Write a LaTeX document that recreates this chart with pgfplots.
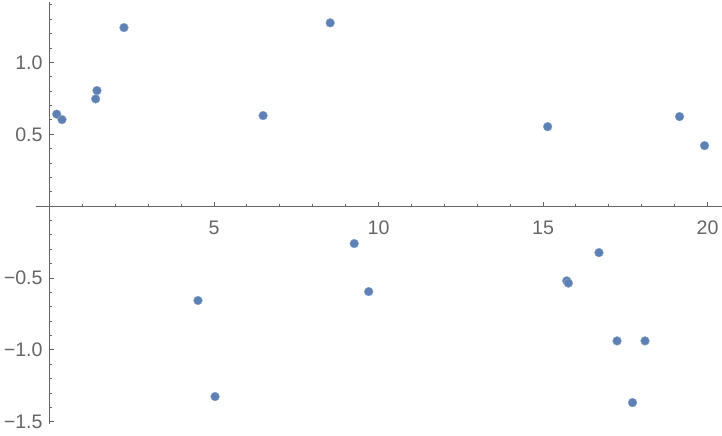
\documentclass[border=0pt]{standalone}
\usepackage{fontspec}
\setmainfont{Liberation Sans}
\usepackage{pgfplots}
\pgfplotsset{compat=1.18}
\usetikzlibrary{calc}
\definecolor{mblue}{HTML}{5E81B5}
\definecolor{mgray}{HTML}{666666}
\begin{document}
\begin{tikzpicture}
\begin{axis}[
  scale only axis,
  width=343.2pt, height=211pt,
  xmin=-0.42, xmax=20.44,
  ymin=-1.514, ymax=1.42,
  axis lines=middle,
  axis line style={-, draw=mgray, line width=0.6pt},
  xtick={5,10,15,20},
  minor xtick={1,2,3,4,6,7,8,9,11,12,13,14,16,17,18,19},
  ytick={-1.5,-1,-0.5,0.5,1},
  yticklabels={−1.5,−1.0,−0.5,0.5,1.0},
  minor ytick={-1.4,-1.3,-1.2,-1.1,-0.9,-0.8,-0.7,-0.6,-0.4,-0.3,-0.2,-0.1,0.1,0.2,0.3,0.4,0.6,0.7,0.8,0.9,1.1,1.2,1.3,1.4},
  tick align=inside,
  major tick length=2pt,
  minor tick length=1.3pt,
  tick style={draw=mgray, line width=0.5pt},
  every tick label/.style={font=\fontsize{9.8}{11}\selectfont, text=mgray},
  /pgf/number format/assume math mode=true,
  xticklabel style={yshift=-3.9pt},
  clip=false,
]
\addplot[only marks, mark=*, mark size=2.2pt, mark options={fill=mblue, draw=mblue!70!white, line width=0.2pt}] coordinates {
(0.216,0.640)
(0.377,0.602)
(1.40,0.746)
(1.44,0.804)
(2.26,1.242)
(4.51,-0.656)
(5.03,-1.324)
(6.49,0.630)
(8.53,1.275)
(9.26,-0.260)
(9.70,-0.594)
(15.14,0.553)
(15.72,-0.519)
(15.77,-0.535)
(16.70,-0.323)
(17.25,-0.937)
(17.72,-1.366)
(18.10,-0.937)
(19.15,0.623)
(19.91,0.421)
};
\coordinate (sw) at (rel axis cs:0,0);
\coordinate (ne) at (rel axis cs:1,1);
\end{axis}
\pgfresetboundingbox
\path ($(sw)+(-17.9pt,-6pt)$) rectangle ($(ne)+(0pt,1pt)$);
\end{tikzpicture}
\end{document}
